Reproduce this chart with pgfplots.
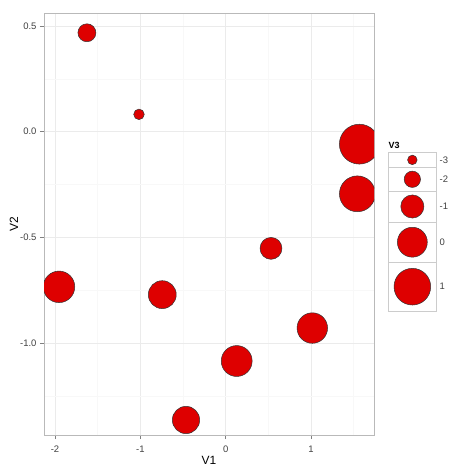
\documentclass[border=0pt]{standalone}
\usepackage{pgfplots}
\usepackage{pgfplotstable}
\pgfplotsset{compat=1.18}
\usepackage{fontspec}
\setmainfont{Liberation Sans}
\definecolor{ptred}{RGB}{222,0,0}
\definecolor{bordergrey}{RGB}{185,185,185}
\definecolor{majgrid}{RGB}{235,235,235}
\definecolor{mingrid}{RGB}{248,248,248}
\definecolor{ticktext}{RGB}{64,64,64}
\definecolor{keygrey}{RGB}{204,204,204}
\pgfplotstableread{
x y v3
-1.626 0.468 -1.76
-1.016 0.082 -2.85
1.566 -0.059 1.47
1.543 -0.294 0.88
0.531 -0.552 -1.18
-1.953 -0.734 0.24
-0.743 -0.771 -0.29
1.015 -0.929 0.09
0.129 -1.085 0.15
-0.465 -1.364 -0.38
}\bubbles
\pgfplotstableread{
y v3
151.1 -3
131.7 -2
104.5 -1
68.8 0
24.3 1
}\legendtab
\begin{document}
\begin{tikzpicture}
\useasboundingbox (0bp,0bp) rectangle (474bp,474bp);
\begin{axis}[
  at={(44bp,39bp)}, anchor=south west,
  scale only axis, width=330bp, height=422bp,
  xmin=-2.129, xmax=1.738, ymin=-1.435, ymax=0.5615,
  xtick={-2,-1,0,1}, xticklabels={-2,-1,0,1},
  ytick={-1,-0.5,0,0.5}, yticklabels={-1.0,-0.5,0.0,0.5},
  minor xtick={-1.5,-0.5,0.5,1.5}, minor ytick={-1.25,-0.75,-0.25,0.25},
  grid=both,
  major grid style={majgrid, line width=0.5pt},
  minor grid style={mingrid, line width=0.5pt},
  axis line style={bordergrey, line width=0.8pt},
  tick align=outside, tick pos=left,
  major tick length=4bp, minor tick length=0pt,
  major tick style={gray, line width=0.6pt},
  ticklabel style={font=\fontsize{9.5}{10}\selectfont, text=ticktext},
  xticklabel style={yshift=-3bp},
  xlabel={V1}, ylabel={V2},
  label style={font=\fontsize{12}{13}\selectfont},
  xlabel style={at={(axis description cs:0.5,-0.0592)}, anchor=center},
  ylabel style={at={(axis description cs:-0.0909,0.5)}, anchor=center},
  clip marker paths=true,
]
\addplot[scatter, only marks, mark=*,
  scatter/use mapped color={draw=black!80, fill=ptred},
  visualization depends on={15+3.4*\thisrow{v3} \as \rad},
  scatter/@pre marker code/.append style={/tikz/mark size=\rad},
  mark options={line width=0.5pt}] table[x=x, y=y] {\bubbles};
\end{axis}
\begin{axis}[
  at={(388bp,163bp)}, anchor=south west,
  scale only axis, width=48.7bp, height=159bp,
  xmin=0, xmax=48.7, ymin=0, ymax=159,
  hide axis, clip=false,
]
\draw[keygrey, line width=0.6pt] (axis cs:0,0) rectangle (axis cs:48.7,159);
\draw[keygrey, line width=0.6pt] (axis cs:0,48.7) -- (axis cs:48.7,48.7)
  (axis cs:0,89) -- (axis cs:48.7,89)
  (axis cs:0,120) -- (axis cs:48.7,120)
  (axis cs:0,143.3) -- (axis cs:48.7,143.3);
\addplot[scatter, only marks, mark=*,
  scatter/use mapped color={draw=black!80, fill=ptred},
  visualization depends on={15+3.4*\thisrow{v3} \as \rad},
  scatter/@pre marker code/.append style={/tikz/mark size=\rad},
  mark options={line width=0.5pt}] table[x expr=24.35, y=y] {\legendtab};
\node[anchor=west, font=\bfseries\fontsize{9}{10}\selectfont, inner sep=0pt] at (axis cs:0.5,166) {V3};
\node[anchor=west, font=\fontsize{9.5}{10}\selectfont, text=ticktext, inner sep=0pt] at (axis cs:51.5,151.1) {-3};
\node[anchor=west, font=\fontsize{9.5}{10}\selectfont, text=ticktext, inner sep=0pt] at (axis cs:51.5,131.7) {-2};
\node[anchor=west, font=\fontsize{9.5}{10}\selectfont, text=ticktext, inner sep=0pt] at (axis cs:51.5,104.5) {-1};
\node[anchor=west, font=\fontsize{9.5}{10}\selectfont, text=ticktext, inner sep=0pt] at (axis cs:51.5,68.8) {0};
\node[anchor=west, font=\fontsize{9.5}{10}\selectfont, text=ticktext, inner sep=0pt] at (axis cs:51.5,24.3) {1};
\end{axis}
\end{tikzpicture}
\end{document}
